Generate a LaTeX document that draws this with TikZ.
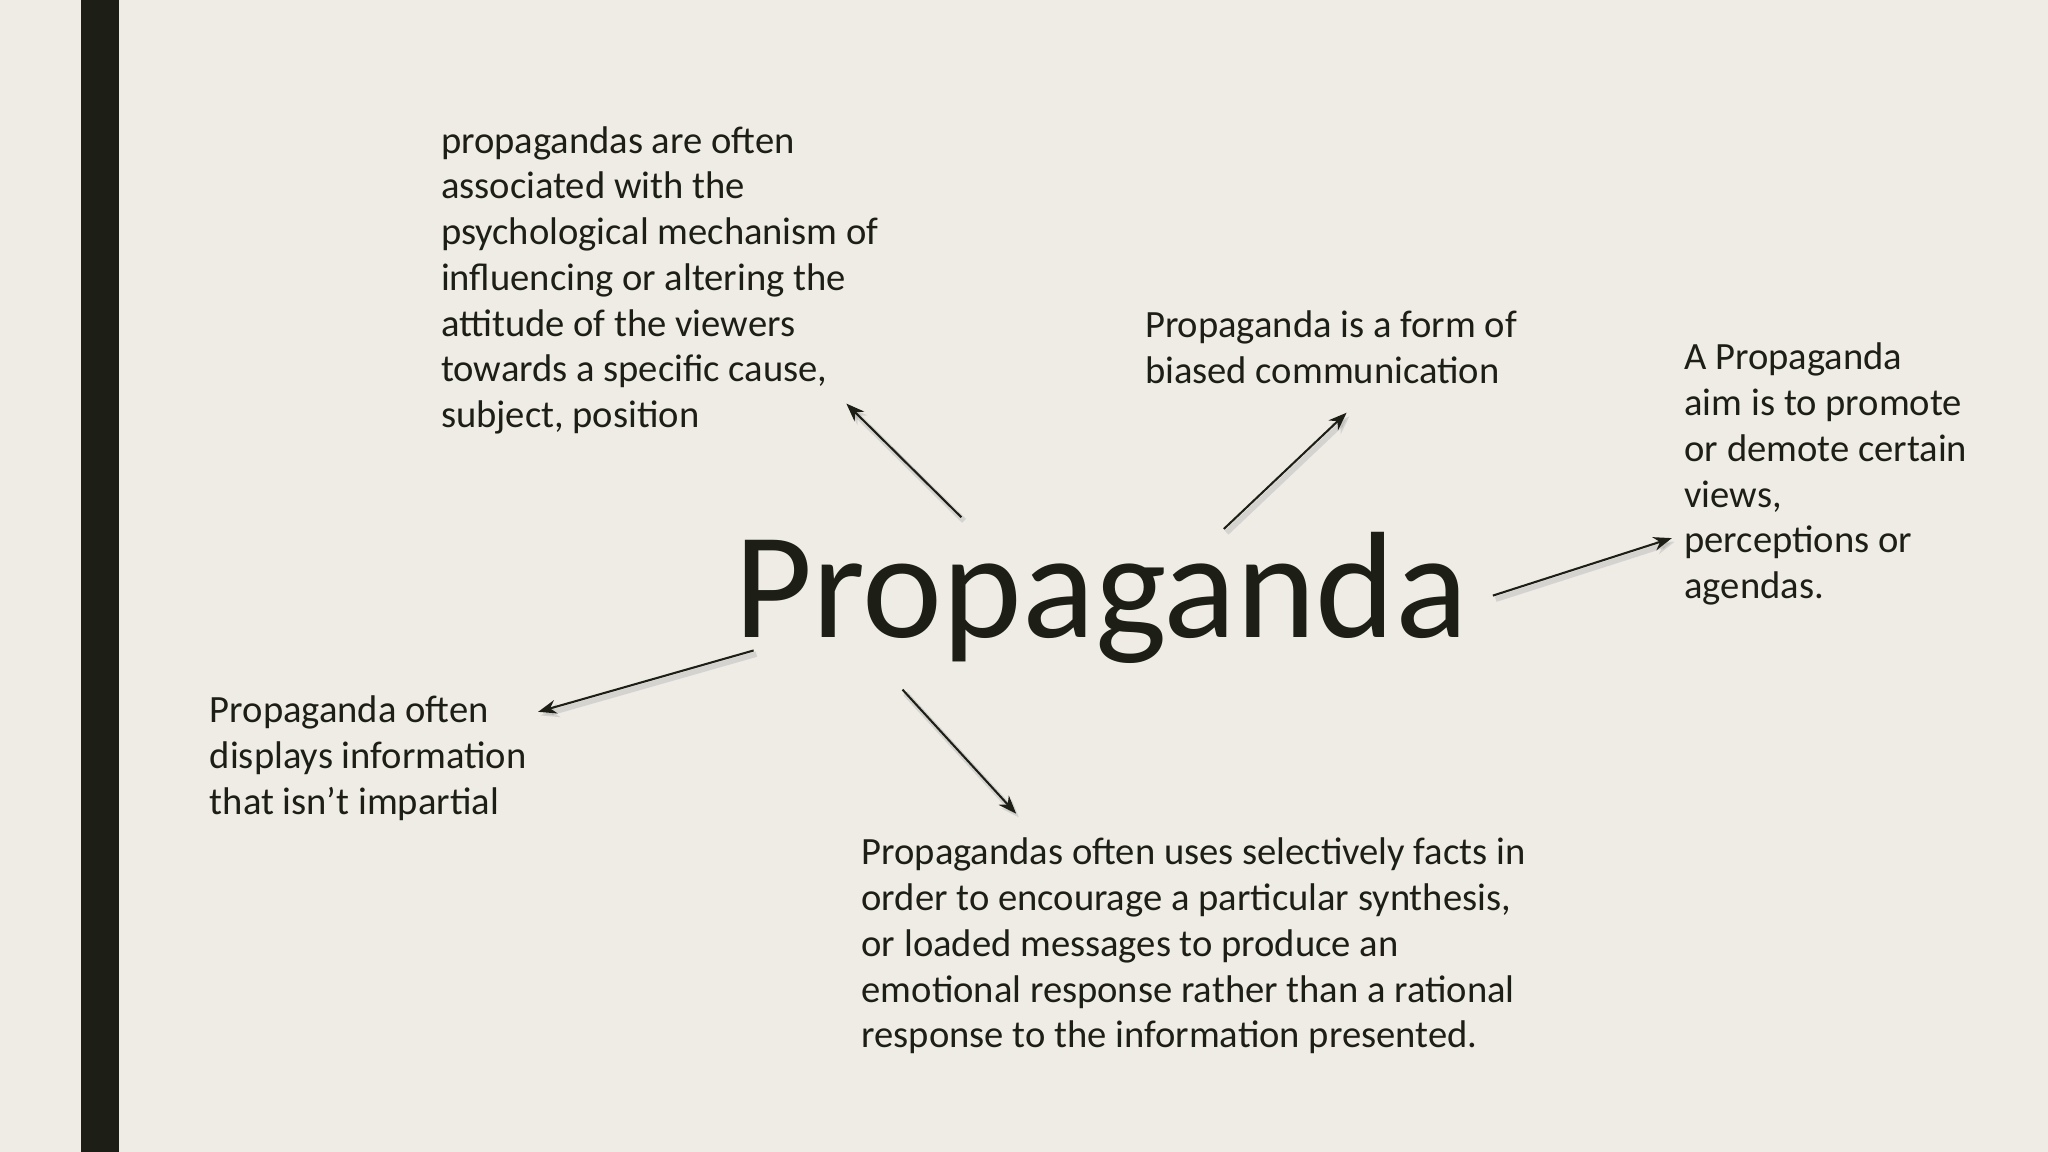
\documentclass[tikz,border=0pt]{standalone}
\usepackage{fontspec}
\setmainfont{Carlito}
\usetikzlibrary{arrows.meta,shadows}
\definecolor{bg}{HTML}{EFECE6}
\definecolor{bar}{HTML}{1D1E16}
\definecolor{ink}{HTML}{1D1E16}
\begin{document}
\begin{tikzpicture}[x=0.01cm,y=-0.01cm,
  txt/.style={anchor=north west,inner sep=0pt,align=left,text=ink,font=\fontsize{8.4}{9.96}\selectfont},
  arr/.style={draw=ink,line width=0.45pt,-{Stealth[length=4pt,width=3pt]},
    preaction={draw=black!35,line width=1.2pt,transform canvas={xshift=0.6pt,yshift=-0.8pt},opacity=0.35}}]
\fill[bg] (0,0) rectangle (1568,882);
\fill[bar] (62,0) rectangle (91,882);
\node[anchor=base,inner sep=0pt,text=ink,font=\fontsize{33}{40}\selectfont] (main) at (843,488) {Propaganda};
\node[txt] (a) at (337,96) {propagandas are often\\associated with the\\psychological mechanism of\\influencing or altering the\\attitude of the viewers\\towards a specific cause,\\subject, position};
\node[txt] (b) at (876,237) {Propaganda is a form of\\biased communication};
\node[txt] (c) at (1289,262) {A Propaganda\\aim is to promote\\or demote certain\\views,\\perceptions or\\agendas.};
\node[txt] (d) at (160,532) {Propaganda often\\displays information\\that isn’t impartial};
\node[txt] (e) at (659,641) {Propagandas often uses selectively facts in\\order to encourage a particular synthesis,\\or loaded messages to produce an\\emotional response rather than a rational\\response to the information presented.};
\coordinate (s1) at (736,396); \coordinate (t1) at (648,309);
\coordinate (s2) at (937,405); \coordinate (t2) at (1031,316);
\coordinate (s3) at (1143,456); \coordinate (t3) at (1280,412);
\coordinate (s4) at (577,498); \coordinate (t4) at (412,545);
\coordinate (s5) at (691,528); \coordinate (t5) at (778,623);
\draw[arr] (s1) -- (t1);
\draw[arr] (s2) -- (t2);
\draw[arr] (s3) -- (t3);
\draw[arr] (s4) -- (t4);
\draw[arr] (s5) -- (t5);
\end{tikzpicture}
\end{document}
